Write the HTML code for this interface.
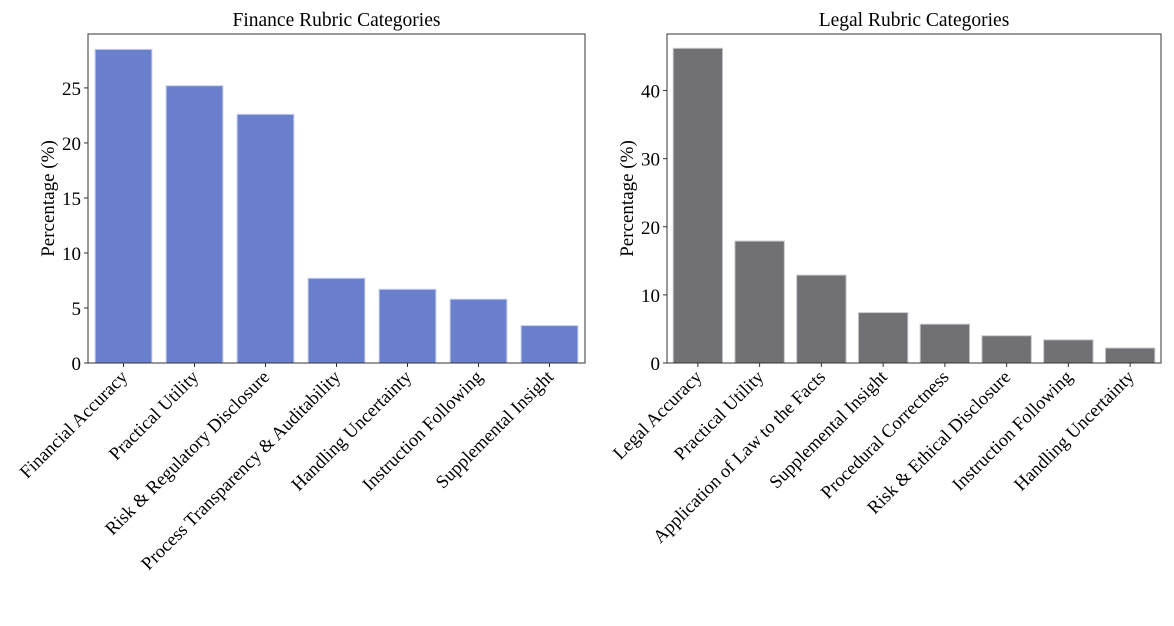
<!DOCTYPE html>
<html><head><meta charset="utf-8"><style>
html,body{margin:0;padding:0;background:#fff;}
svg text{font-family:"Liberation Serif",serif;fill:#000;}
</style></head><body>
<svg id="c" width="1174" height="621" xmlns="http://www.w3.org/2000/svg"></svg>
<script>
const finCats=["Financial Accuracy","Practical Utility","Risk & Regulatory Disclosure","Process Transparency & Auditability","Handling Uncertainty","Instruction Following","Supplemental Insight"];
const finVals=[28.5,25.2,22.6,7.7,6.7,5.8,3.4];
const finTicks=[0,5,10,15,20,25];
const legCats=["Legal Accuracy","Practical Utility","Application of Law to the Facts","Supplemental Insight","Procedural Correctness","Risk & Ethical Disclosure","Instruction Following","Handling Uncertainty"];
const legVals=[46.2,17.9,12.9,7.4,5.7,4.0,3.4,2.2];
const legTicks=[0,10,20,30,40];
const NS="http://www.w3.org/2000/svg";
const svg=document.getElementById('c');
function el(t,a,p){const e=document.createElementNS(NS,t);for(const k in a)e.setAttribute(k,a[k]);(p||svg).appendChild(e);return e;}
function panel(o){
  const g=el('g',{});
  
  
  const {x0,x1,y0,y1,ymax}=o;
  const ys=v=>y1-(v/ymax)*(y1-y0);
  const step=(x1-x0)/o.cats.length;
  const xc=i=>x0+step*(i+0.5);
  o.vals.forEach((v,i)=>{
    const r=el('rect',{x:xc(i)-step*0.4,y:ys(v),width:step*0.8,height:y1-ys(v),fill:o.color,stroke:o.edge,'stroke-width':1},g);
    
    
  });
  const f=el('rect',{x:x0,y:y0,width:x1-x0,height:y1-y0,fill:'none',stroke:'#333','stroke-width':1},g);
  
  
  o.ticks.forEach(t=>{
    el('line',{x1:x0-4,x2:x0,y1:ys(t),y2:ys(t),stroke:'#333'},g);
    const tx=el('text',{x:x0-7,y:ys(t)+7,'text-anchor':'end','font-size':19},g);
    tx.textContent=t;
    
    
  });
  o.cats.forEach((c,i)=>{
    el('line',{x1:xc(i),x2:xc(i),y1:y1,y2:y1+4,stroke:'#333'},g);
    const tx=el('text',{x:0,y:0,'text-anchor':'end','font-size':18.5,transform:`translate(${xc(i)+5},${y1+15}) rotate(-45)`},g);
    tx.textContent=c;
    
    
  });
  const ti=el('text',{x:(x0+x1)/2,y:y0-8,'text-anchor':'middle','font-size':19.5},g);
  ti.textContent=o.title;
  
  
  const yl=el('text',{x:0,y:0,'text-anchor':'middle','font-size':19,transform:`translate(${o.ylx},${(y0+y1)/2}) rotate(-90)`},g);
  yl.textContent='Percentage (%)';
  
  
}
panel({name:'finance-panel',x0:88,x1:585,y0:34,y1:363,ymax:29.9,cats:finCats,vals:finVals,ticks:finTicks,color:'#6b80cc',edge:'#c8d0ee',title:'Finance Rubric Categories',ylx:54});
panel({name:'legal-panel',x0:667,x1:1161,y0:34,y1:363,ymax:48.3,cats:legCats,vals:legVals,ticks:legTicks,color:'#707075',edge:'#c8c8cc',title:'Legal Rubric Categories',ylx:633});
</script>
</body></html>
